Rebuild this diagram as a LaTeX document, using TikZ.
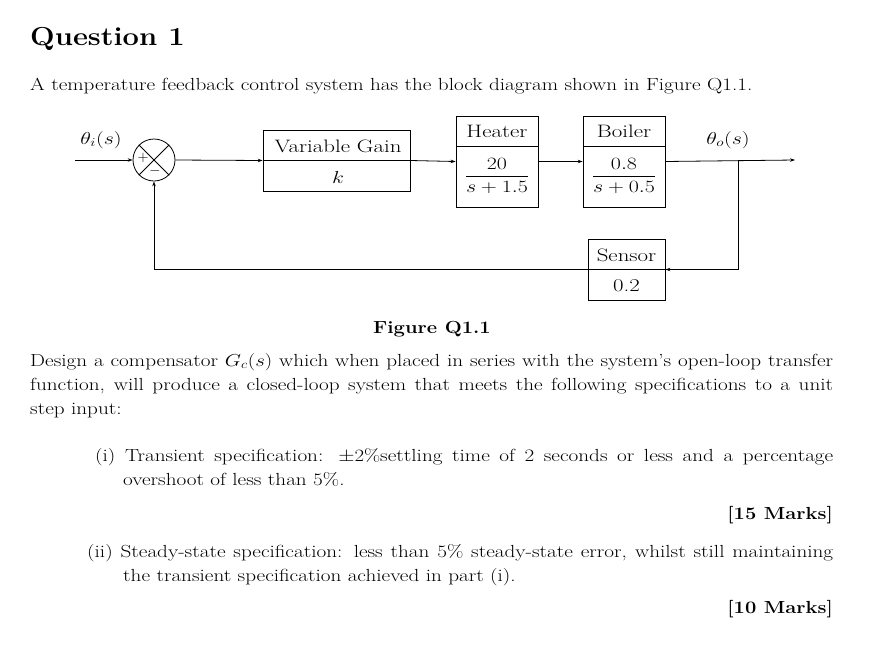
\documentclass[tikz,border=0pt]{standalone}
\usetikzlibrary{arrows.meta}
\newcommand\wx[1]{\scalebox{1.21}[1]{#1}}
\newcommand\wdg[1]{\scalebox{1.27}[1]{#1}}
\newcommand\wb[1]{\scalebox{1.15}[1]{#1}}
\begin{document}
\begin{tikzpicture}[x=1pt,y=-1pt,
  txt/.style={anchor=base west,inner sep=0pt,font=\fontsize{17.5}{20}\selectfont},
  lab/.style={font=\fontsize{18}{20}\selectfont},
  blk/.style={draw,line width=0.8pt},
  sig/.style={line width=0.8pt,-{Stealth[length=5pt,width=3.5pt]}},
  ln/.style={line width=0.8pt}]
\useasboundingbox[fill=white] (0,0) rectangle (882,656);
\node[txt,font=\fontsize{26}{30}\bfseries] (q) at (30,45) {\scalebox{1.12}[1]{Question 1}};
\node[txt] (l1) at (30,90) {\wx{A temperature feedback control system has the block diagram shown in Figure Q1.1.}};
% diagram
\coordinate (in) at (75,160);
\node[draw,circle,line width=0.8pt,minimum size=42pt,inner sep=0pt] (sum) at (154,160) {};
\draw[ln] (sum.north west)--(sum.south east) (sum.north east)--(sum.south west);
\node[font=\fontsize{15}{15}\selectfont,inner sep=0pt] (plus) at (143,158) {$+$};
\node[font=\fontsize{15}{15}\selectfont,inner sep=0pt] (minus) at (155,171) {$-$};
\node[lab] (thi) at (101,140) {\wdg{$\theta_i(s)$}};
\node[blk,minimum width=147pt,minimum height=61pt] (vg) at (336.5,160.5) {};
\node[lab] (vgt) at (338,146) {\wdg{Variable Gain}};
\node[lab] (vgk) at (338,177) {\wdg{$k$}};
\node[blk,minimum width=82pt,minimum height=91pt] (he) at (497,161.5) {};
\draw[ln] (456,146)--(538,146);
\node[lab] (het) at (497,131) {\wdg{Heater}};
\node[lab] (hef) at (497,176) {\wdg{$\displaystyle\frac{20}{s+1.5}$}};
\node[blk,minimum width=82pt,minimum height=91pt] (bo) at (624,161.5) {};
\draw[ln] (583,146)--(665,146);
\node[lab] (bot) at (624,131) {\wdg{Boiler}};
\node[lab] (bof) at (624,176) {\wdg{$\displaystyle\frac{0.8}{s+0.5}$}};
\node[lab] (tho) at (728,140) {\wdg{$\theta_o(s)$}};
\coordinate (out) at (795,160);
\coordinate (br) at (738,160);
\node[blk,minimum width=77pt,minimum height=61pt] (se) at (626.5,269.5) {};
\node[lab] (set) at (626.5,255) {\wdg{Sensor}};
\node[lab] (sev) at (626.5,286) {\wdg{0.2}};
\draw[sig] (in)--(sum.west);
\draw[sig] (sum.east)--(vg.west);
\draw[ln] (vg.west)--(vg.east);
\draw[sig] (vg.east)--(he.west);
\draw[sig] (he.east)--(bo.west);
\draw[sig] (bo.east)--(out);
\draw[sig] (br)|-(se.east);
\draw[ln] (se.west)--(se.east);
\draw[sig] (se.west)-|(sum.south);
% text
\node[txt,font=\fontsize{17.5}{20}\bfseries] (fig) at (373,333) {\wb{Figure Q1.1}};
\node[txt] (p1) at (30,366) {\wx{\makebox[663.6pt][s]{Design a compensator $G_c(s)$ which when placed in series with the system's open-loop transfer}}};
\node[txt] (p2) at (30,390) {\wx{\makebox[663.6pt][s]{function, will produce a closed-loop system that meets the following specifications to a unit}}};
\node[txt] (p3) at (30,414) {\wx{step input:}};
\node[txt] (i1) at (95,461) {\wx{\makebox[610pt][s]{(i) Transient specification: $\pm2\%$settling time of 2 seconds or less and a percentage}}};
\node[txt] (i2) at (123,485) {\wx{overshoot of less than 5\%.}};
\node[txt,anchor=base east,font=\fontsize{17.5}{20}\bfseries] (m1) at (833,519) {\wb{[15 Marks]}};
\node[txt] (j1) at (87,557) {\wx{\makebox[616.5pt][s]{(ii) Steady-state specification: less than 5\% steady-state error, whilst still maintaining}}};
\node[txt] (j2) at (123,581) {\wx{the transient specification achieved in part (i).}};
\node[txt,anchor=base east,font=\fontsize{17.5}{20}\bfseries] (m2) at (833,613) {\wb{[10 Marks]}};
\end{tikzpicture}
\end{document}
